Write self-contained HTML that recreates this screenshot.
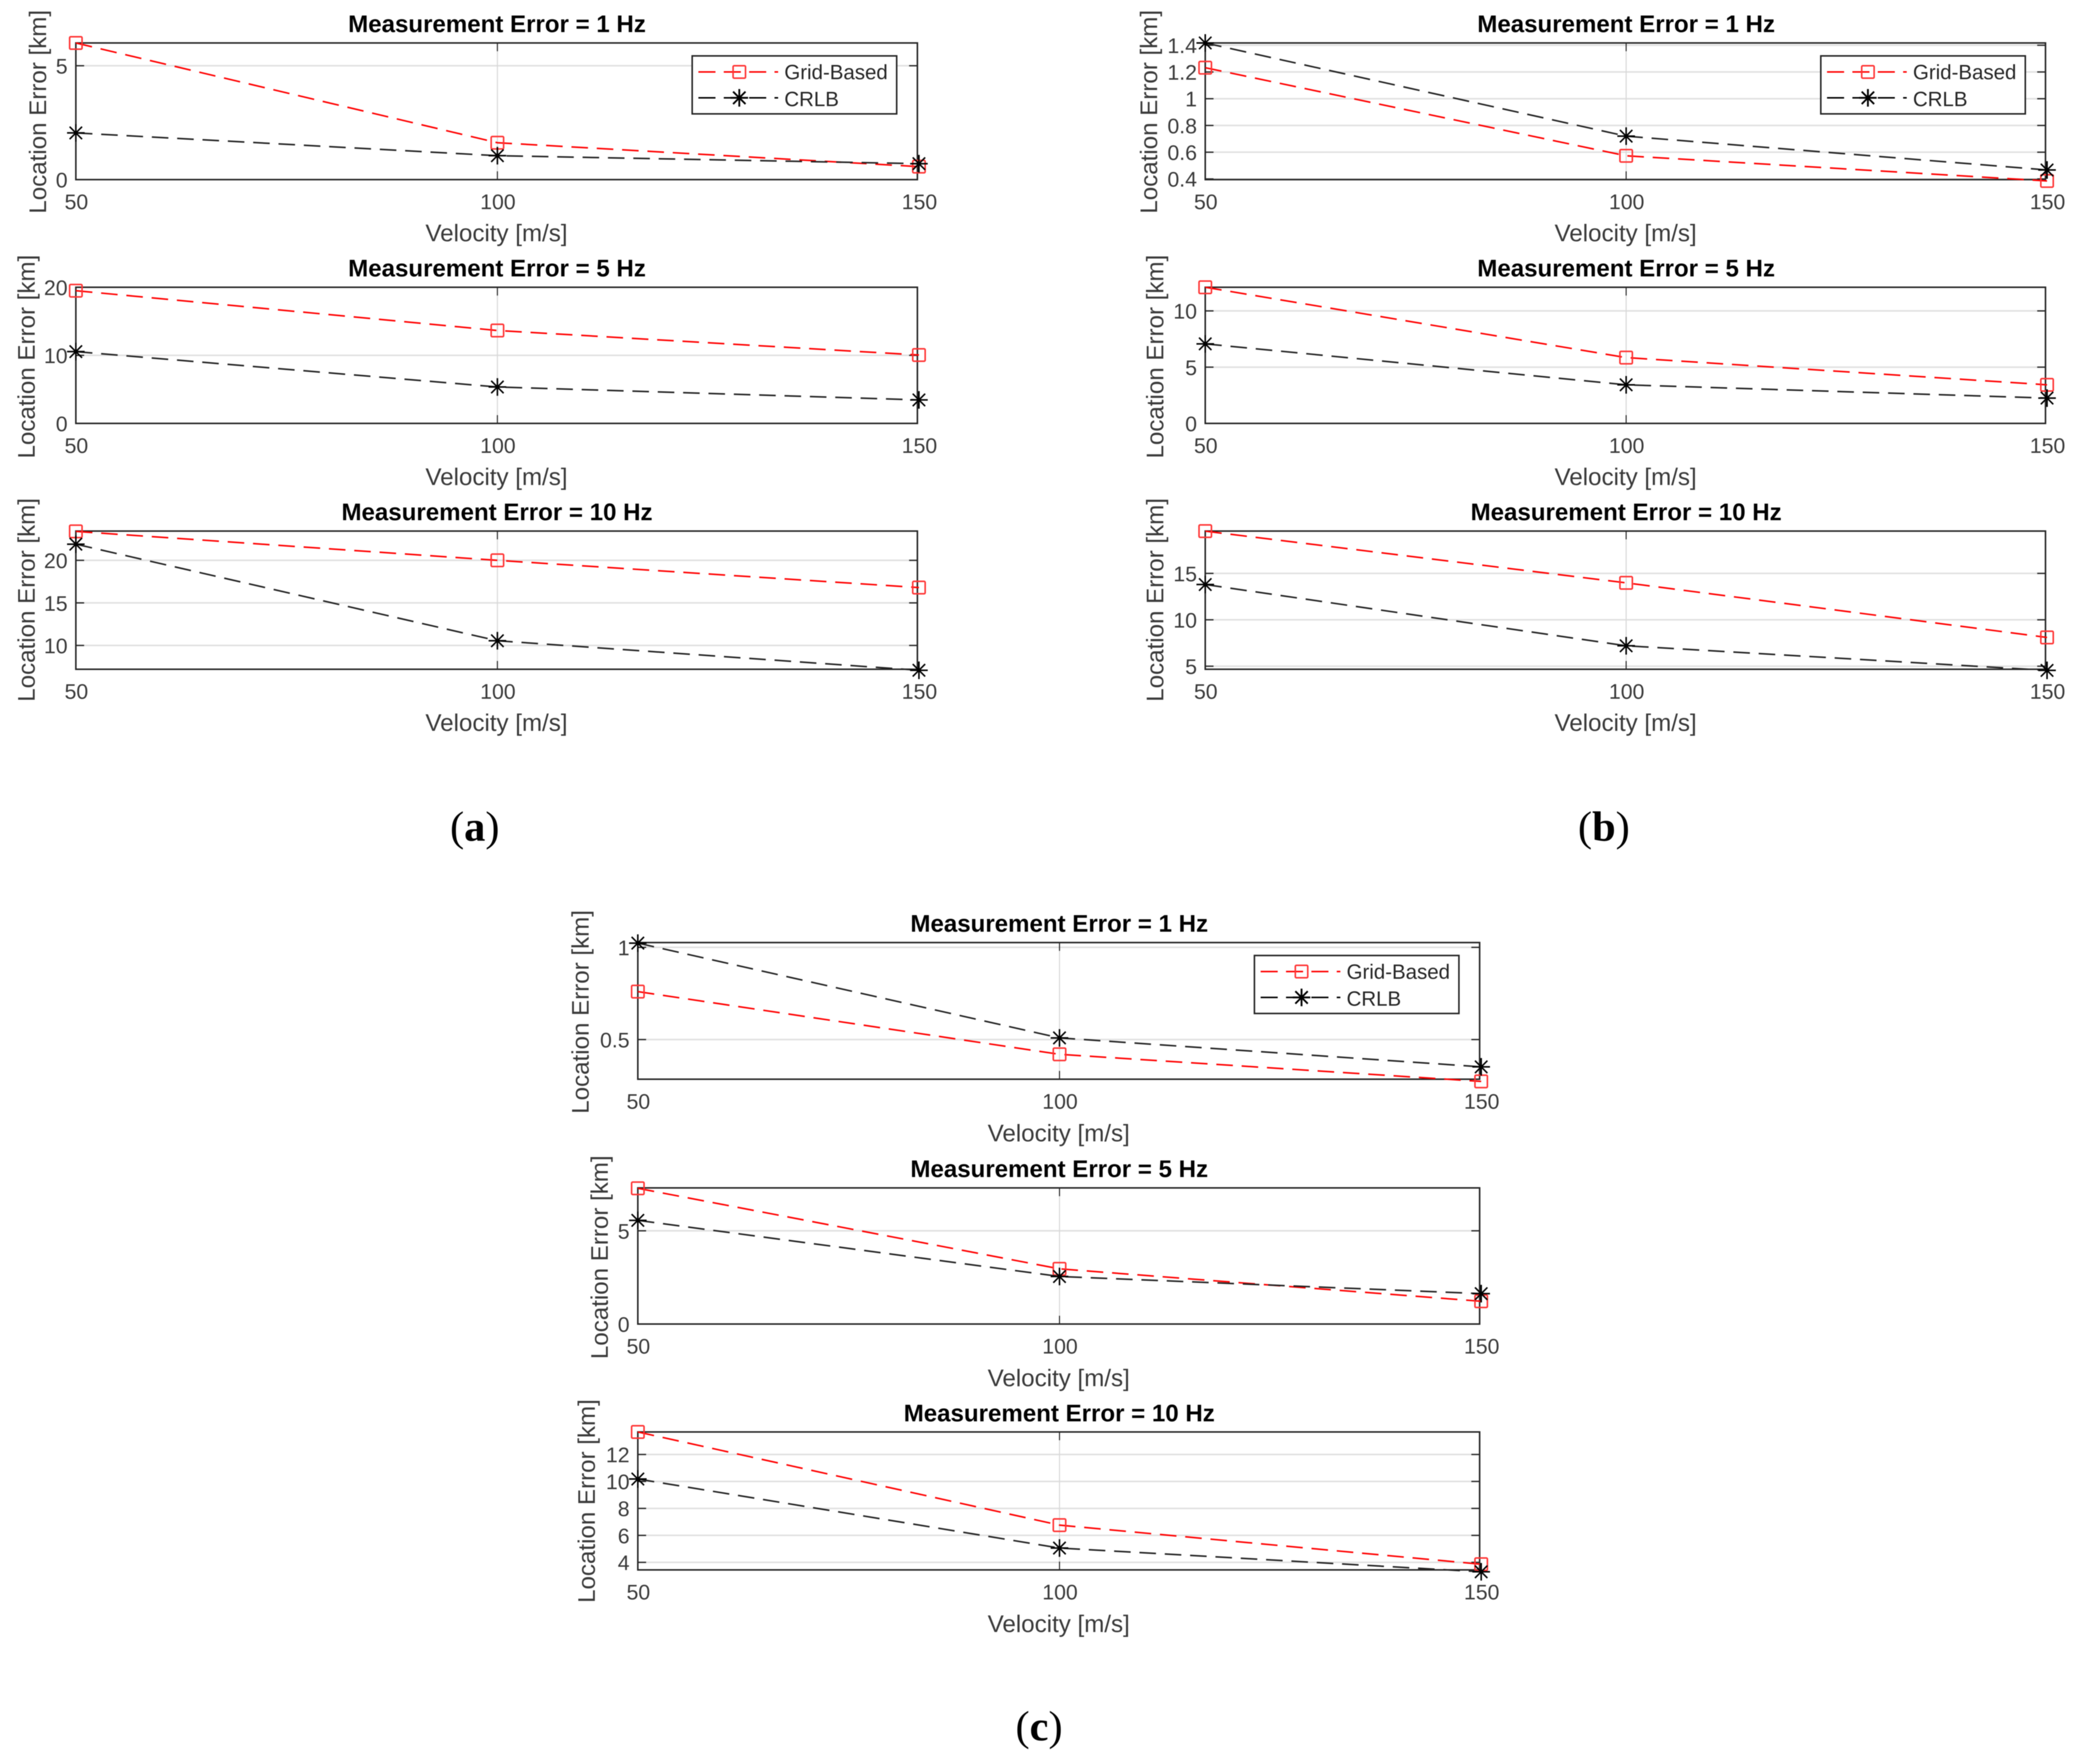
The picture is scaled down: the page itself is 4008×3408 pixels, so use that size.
<!DOCTYPE html>
<html lang="en">
<head>
<meta charset="utf-8">
<title>Location Error vs Velocity</title>
<style>
html,body{margin:0;padding:0;background:#fff;width:4008px;height:3408px;overflow:hidden}
svg{display:block;filter:blur(0.8px)}
text{font-family:"Liberation Sans",sans-serif;fill:#333}
.title{font-size:46.5px;font-weight:bold;fill:#000;text-anchor:middle}
.axis-title{font-size:46.6px;text-anchor:middle;fill:#3a3a3a}
.tick-label{font-size:41px;fill:#3a3a3a}
.legend-text{font-size:39.5px;fill:#262626}
.caption{font-family:"Liberation Serif",serif;font-size:82px;fill:#000;text-anchor:middle}
</style>
</head>
<body>
<svg id="figure" xmlns="http://www.w3.org/2000/svg" width="4008" height="3408" viewBox="0 0 4008 3408">
<rect x="0" y="0" width="4008" height="3408" fill="#fff"/>

<g>
<text class="title" x="960" y="62">Measurement Error = 1 Hz</text>
<text class="axis-title" transform="rotate(-90 89 216)" x="89" y="216">Location Error [km]</text>
<text class="axis-title" x="959" y="466">Velocity [m/s]</text>
<g id="plot-a1"></g>
<g transform="translate(1337 108)">
<rect x="0" y="0" width="395" height="112" fill="#fff" stroke="#262626" stroke-width="3"/>
<line x1="12" y1="31" x2="166" y2="31" stroke="#f00" stroke-width="3" stroke-dasharray="33 16"/>
<rect x="79" y="19" width="24" height="24" rx="2" fill="none" stroke="#f33" stroke-width="3"/>
<text class="legend-text" x="178" y="45">Grid-Based</text>
<line x1="12" y1="81" x2="166" y2="81" stroke="#000" stroke-width="3" stroke-dasharray="33 16"/>
<path d="M74 81H108M91 64V98M79 69L103 93M79 93L103 69" fill="none" stroke="#000" stroke-width="3.5"/>
<text class="legend-text" x="178" y="97">CRLB</text>
</g>
</g>

<g>
<text class="title" x="960" y="534">Measurement Error = 5 Hz</text>
<text class="axis-title" transform="rotate(-90 67 689)" x="67" y="689">Location Error [km]</text>
<text class="axis-title" x="959" y="937">Velocity [m/s]</text>
<g id="plot-a2"></g>
</g>

<g>
<text class="title" x="960" y="1005">Measurement Error = 10 Hz</text>
<text class="axis-title" transform="rotate(-90 67 1159)" x="67" y="1159">Location Error [km]</text>
<text class="axis-title" x="959" y="1412">Velocity [m/s]</text>
<g id="plot-a3"></g>
</g>

<text class="caption" x="917" y="1624">(<tspan font-weight="bold">a</tspan>)</text>

<g>
<text class="title" x="3141" y="62">Measurement Error = 1 Hz</text>
<text class="axis-title" transform="rotate(-90 2235 216)" x="2235" y="216">Location Error [km]</text>
<text class="axis-title" x="3140" y="466">Velocity [m/s]</text>
<g id="plot-b1"></g>
<g transform="translate(3517 108)">
<rect x="0" y="0" width="395" height="112" fill="#fff" stroke="#262626" stroke-width="3"/>
<line x1="12" y1="31" x2="166" y2="31" stroke="#f00" stroke-width="3" stroke-dasharray="33 16"/>
<rect x="79" y="19" width="24" height="24" rx="2" fill="none" stroke="#f33" stroke-width="3"/>
<text class="legend-text" x="178" y="45">Grid-Based</text>
<line x1="12" y1="81" x2="166" y2="81" stroke="#000" stroke-width="3" stroke-dasharray="33 16"/>
<path d="M74 81H108M91 64V98M79 69L103 93M79 93L103 69" fill="none" stroke="#000" stroke-width="3.5"/>
<text class="legend-text" x="178" y="97">CRLB</text>
</g>
</g>

<g>
<text class="title" x="3141" y="534">Measurement Error = 5 Hz</text>
<text class="axis-title" transform="rotate(-90 2247 689)" x="2247" y="689">Location Error [km]</text>
<text class="axis-title" x="3140" y="937">Velocity [m/s]</text>
<g id="plot-b2"></g>
</g>

<g>
<text class="title" x="3141" y="1005">Measurement Error = 10 Hz</text>
<text class="axis-title" transform="rotate(-90 2247 1159)" x="2247" y="1159">Location Error [km]</text>
<text class="axis-title" x="3140" y="1412">Velocity [m/s]</text>
<g id="plot-b3"></g>
</g>

<text class="caption" x="3098" y="1624">(<tspan font-weight="bold">b</tspan>)</text>

<g>
<text class="title" x="2046" y="1800">Measurement Error = 1 Hz</text>
<text class="axis-title" transform="rotate(-90 1137 1955)" x="1137" y="1955">Location Error [km]</text>
<text class="axis-title" x="2045" y="2205">Velocity [m/s]</text>
<g id="plot-c1"></g>
<g transform="translate(2423 1846)">
<rect x="0" y="0" width="395" height="112" fill="#fff" stroke="#262626" stroke-width="3"/>
<line x1="12" y1="31" x2="166" y2="31" stroke="#f00" stroke-width="3" stroke-dasharray="33 16"/>
<rect x="79" y="19" width="24" height="24" rx="2" fill="none" stroke="#f33" stroke-width="3"/>
<text class="legend-text" x="178" y="45">Grid-Based</text>
<line x1="12" y1="81" x2="166" y2="81" stroke="#000" stroke-width="3" stroke-dasharray="33 16"/>
<path d="M74 81H108M91 64V98M79 69L103 93M79 93L103 69" fill="none" stroke="#000" stroke-width="3.5"/>
<text class="legend-text" x="178" y="97">CRLB</text>
</g>
</g>

<g>
<text class="title" x="2046" y="2274">Measurement Error = 5 Hz</text>
<text class="axis-title" transform="rotate(-90 1174 2429)" x="1174" y="2429">Location Error [km]</text>
<text class="axis-title" x="2045" y="2678">Velocity [m/s]</text>
<g id="plot-c2"></g>
</g>

<g>
<text class="title" x="2046" y="2746">Measurement Error = 10 Hz</text>
<text class="axis-title" transform="rotate(-90 1149 2900)" x="1149" y="2900">Location Error [km]</text>
<text class="axis-title" x="2045" y="3153">Velocity [m/s]</text>
<g id="plot-c3"></g>
</g>

<text class="caption" x="2007" y="3362">(<tspan font-weight="bold">c</tspan>)</text>
</svg>

<script>
const velocities = [50, 100, 150];
const xTickLabels = ['50', '100', '150'];

const gridBasedA1 = [6.0, 1.62, 0.57];
const crlbA1 = [2.05, 1.05, 0.70];
const yDomainA1 = [0, 6];
const yTicksA1 = [0, 5];
const yTickLabelsA1 = ['0', '5'];

const gridBasedA2 = [19.5, 13.65, 10.05];
const crlbA2 = [10.55, 5.35, 3.45];
const yDomainA2 = [0, 20];
const yTicksA2 = [0, 10, 20];
const yTickLabelsA2 = ['0', '10', '20'];

const gridBasedA3 = [23.4, 20.0, 16.8];
const crlbA3 = [21.9, 10.55, 7.08];
const yDomainA3 = [7.2, 23.44];
const yTicksA3 = [10, 15, 20];
const yTickLabelsA3 = ['10', '15', '20'];

const gridBasedB1 = [1.232, 0.573, 0.385];
const crlbB1 = [1.417, 0.72, 0.467];
const yDomainB1 = [0.395, 1.417];
const yTicksB1 = [0.4, 0.6, 0.8, 1, 1.2, 1.4];
const yTickLabelsB1 = ['0.4', '0.6', '0.8', '1', '1.2', '1.4'];

const gridBasedB2 = [12.1, 5.85, 3.43];
const crlbB2 = [7.07, 3.43, 2.25];
const yDomainB2 = [0, 12.1];
const yTicksB2 = [0, 5, 10];
const yTickLabelsB2 = ['0', '5', '10'];

const gridBasedB3 = [19.55, 13.98, 8.1];
const crlbB3 = [13.8, 7.2, 4.55];
const yDomainB3 = [4.67, 19.56];
const yTicksB3 = [5, 10, 15];
const yTickLabelsB3 = ['5', '10', '15'];

const gridBasedC1 = [0.76, 0.42, 0.273];
const crlbC1 = [1.023, 0.509, 0.352];
const yDomainC1 = [0.285, 1.026];
const yTicksC1 = [0.5, 1];
const yTickLabelsC1 = ['0.5', '1'];

const gridBasedC2 = [7.28, 2.96, 1.22];
const crlbC2 = [5.56, 2.55, 1.63];
const yDomainC2 = [0, 7.3];
const yTicksC2 = [0, 5];
const yTickLabelsC2 = ['0', '5'];

const gridBasedC3 = [13.67, 6.76, 3.86];
const crlbC3 = [10.18, 5.06, 3.3];
const yDomainC3 = [3.44, 13.67];
const yTicksC3 = [4, 6, 8, 10, 12];
const yTickLabelsC3 = ['4', '6', '8', '10', '12'];

const SVG_NS = 'http://www.w3.org/2000/svg';
const xDomain = [50, 150];

function svgEl(tag, parent) {
  const el = document.createElementNS(SVG_NS, tag);
  parent.appendChild(el);
  return el;
}

function drawPanel(id, box, yDomain, yTicks, yTickLabels, gridBased, crlb) {
  const root = document.getElementById(id);
  const xScale = function (v) {
    return box.left + (v - xDomain[0]) / (xDomain[1] - xDomain[0]) * (box.right + 3 - box.left);
  };
  const yScale = function (v) {
    return box.bottom - (v - yDomain[0]) / (yDomain[1] - yDomain[0]) * (box.bottom - box.top);
  };

  yTicks.forEach(function (v, i) {
    const gy = yScale(v);
    const grid = svgEl('line', root);
    
    
    grid.setAttribute('x1', box.left);
    grid.setAttribute('x2', box.right);
    grid.setAttribute('y1', gy);
    grid.setAttribute('y2', gy);
    grid.setAttribute('stroke', '#e0e0e0');
    grid.setAttribute('stroke-width', 3);

    const tickL = svgEl('line', root);
    
    
    tickL.setAttribute('x1', box.left);
    tickL.setAttribute('x2', box.left + 16);
    tickL.setAttribute('y1', gy);
    tickL.setAttribute('y2', gy);
    tickL.setAttribute('stroke', '#262626');
    tickL.setAttribute('stroke-width', 2.5);

    const tickR = svgEl('line', root);
    
    
    tickR.setAttribute('x1', box.right - 16);
    tickR.setAttribute('x2', box.right);
    tickR.setAttribute('y1', gy);
    tickR.setAttribute('y2', gy);
    tickR.setAttribute('stroke', '#262626');
    tickR.setAttribute('stroke-width', 2.5);

    const label = svgEl('text', root);
    
    
    label.setAttribute('class', 'tick-label');
    label.setAttribute('x', box.left - 16);
    label.setAttribute('y', gy + 15);
    label.setAttribute('text-anchor', 'end');
    label.textContent = yTickLabels[i];
  });

  velocities.forEach(function (v, i) {
    const gx = xScale(v);
    if (i === 1) {
      const vGrid = svgEl('line', root);
      
      
      vGrid.setAttribute('x1', gx);
      vGrid.setAttribute('x2', gx);
      vGrid.setAttribute('y1', box.top);
      vGrid.setAttribute('y2', box.bottom);
      vGrid.setAttribute('stroke', '#d8d8d8');
      vGrid.setAttribute('stroke-width', 2);

      const tickT = svgEl('line', root);
      
      
      tickT.setAttribute('x1', gx);
      tickT.setAttribute('x2', gx);
      tickT.setAttribute('y1', box.top);
      tickT.setAttribute('y2', box.top + 16);
      tickT.setAttribute('stroke', '#262626');
      tickT.setAttribute('stroke-width', 2);

      const tickB = svgEl('line', root);
      
      
      tickB.setAttribute('x1', gx);
      tickB.setAttribute('x2', gx);
      tickB.setAttribute('y1', box.bottom - 16);
      tickB.setAttribute('y2', box.bottom);
      tickB.setAttribute('stroke', '#262626');
      tickB.setAttribute('stroke-width', 2);
    }
    const xLabel = svgEl('text', root);
    
    
    xLabel.setAttribute('class', 'tick-label');
    xLabel.setAttribute('x', gx + 1);
    xLabel.setAttribute('y', box.bottom + 57);
    xLabel.setAttribute('text-anchor', 'middle');
    xLabel.textContent = xTickLabels[i];
  });

  const frame = svgEl('rect', root);
  
  
  frame.setAttribute('x', box.left);
  frame.setAttribute('y', box.top);
  frame.setAttribute('width', box.right - box.left);
  frame.setAttribute('height', box.bottom - box.top);
  frame.setAttribute('fill', 'none');
  frame.setAttribute('stroke', '#262626');
  frame.setAttribute('stroke-width', 3);

  const redLine = svgEl('polyline', root);
  
  
  redLine.setAttribute('points', velocities.map(function (v, i) { return xScale(v) + ',' + yScale(gridBased[i]); }).join(' '));
  redLine.setAttribute('fill', 'none');
  redLine.setAttribute('stroke', '#f00');
  redLine.setAttribute('stroke-width', 3);
  redLine.setAttribute('stroke-dasharray', '32 17');

  gridBased.forEach(function (v, i) {
    const square = svgEl('rect', root);
    
    
    square.setAttribute('x', xScale(velocities[i]) - 12);
    square.setAttribute('y', yScale(v) - 12);
    square.setAttribute('width', 24);
    square.setAttribute('height', 24);
    square.setAttribute('rx', 2);
    square.setAttribute('fill', 'none');
    square.setAttribute('stroke', '#f33');
    square.setAttribute('stroke-width', 3);
  });

  const blackLine = svgEl('polyline', root);
  
  
  blackLine.setAttribute('points', velocities.map(function (v, i) { return xScale(v) + ',' + yScale(crlb[i]); }).join(' '));
  blackLine.setAttribute('fill', 'none');
  blackLine.setAttribute('stroke', '#222');
  blackLine.setAttribute('stroke-width', 3);
  blackLine.setAttribute('stroke-dasharray', '32 17');

  crlb.forEach(function (v, i) {
    const px = xScale(velocities[i]);
    const py = yScale(v);
    const star = svgEl('path', root);
    
    
    star.setAttribute('d', 'M' + (px - 17) + ' ' + py + 'H' + (px + 17) + 'M' + px + ' ' + (py - 17) + 'V' + (py + 17) +
      'M' + (px - 12) + ' ' + (py - 12) + 'L' + (px + 12) + ' ' + (py + 12) +
      'M' + (px - 12) + ' ' + (py + 12) + 'L' + (px + 12) + ' ' + (py - 12));
    star.setAttribute('fill', 'none');
    star.setAttribute('stroke', '#000');
    star.setAttribute('stroke-width', 3);
  });
}

const boxA1 = {left: 146.5, right: 1772, top: 83, bottom: 347};
const boxA2 = {left: 146.5, right: 1772, top: 555, bottom: 818};
const boxA3 = {left: 146.5, right: 1772, top: 1026, bottom: 1293};
const boxB1 = {left: 2328, right: 3951, top: 83, bottom: 347};
const boxB2 = {left: 2328, right: 3951, top: 555, bottom: 818};
const boxB3 = {left: 2328, right: 3951, top: 1026, bottom: 1293};
const boxC1 = {left: 1232, right: 2858, top: 1821, bottom: 2085};
const boxC2 = {left: 1232, right: 2858, top: 2295, bottom: 2558};
const boxC3 = {left: 1232, right: 2858, top: 2766.5, bottom: 3033};

drawPanel('plot-a1', boxA1, yDomainA1, yTicksA1, yTickLabelsA1, gridBasedA1, crlbA1);
drawPanel('plot-a2', boxA2, yDomainA2, yTicksA2, yTickLabelsA2, gridBasedA2, crlbA2);
drawPanel('plot-a3', boxA3, yDomainA3, yTicksA3, yTickLabelsA3, gridBasedA3, crlbA3);
drawPanel('plot-b1', boxB1, yDomainB1, yTicksB1, yTickLabelsB1, gridBasedB1, crlbB1);
drawPanel('plot-b2', boxB2, yDomainB2, yTicksB2, yTickLabelsB2, gridBasedB2, crlbB2);
drawPanel('plot-b3', boxB3, yDomainB3, yTicksB3, yTickLabelsB3, gridBasedB3, crlbB3);
drawPanel('plot-c1', boxC1, yDomainC1, yTicksC1, yTickLabelsC1, gridBasedC1, crlbC1);
drawPanel('plot-c2', boxC2, yDomainC2, yTicksC2, yTickLabelsC2, gridBasedC2, crlbC2);
drawPanel('plot-c3', boxC3, yDomainC3, yTicksC3, yTickLabelsC3, gridBasedC3, crlbC3);
</script>
</body>
</html>
